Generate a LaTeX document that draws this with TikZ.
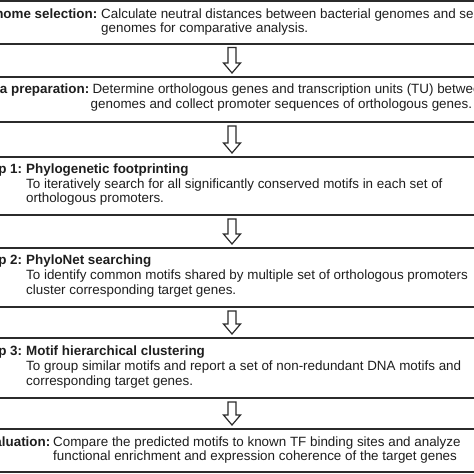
\documentclass[tikz,border=0pt]{standalone}
\usepackage{fontspec}
\setmainfont{Liberation Sans}
\usetikzlibrary{calc}
\definecolor{linec}{HTML}{2B2B2B}
\definecolor{txt}{HTML}{1E1E1E}
\tikzset{
  box/.style={draw=linec, line width=2pt, fill=white, minimum width=520pt, outer sep=0pt, inner sep=0pt, anchor=north},
  lbl/.style={font=\fontsize{13.4}{15}\selectfont\bfseries, anchor=base east, inner sep=0pt, text=txt},
  ttl/.style={font=\fontsize{13.4}{15}\selectfont\bfseries, anchor=base west, inner sep=0pt, text=txt},
  body/.style={font=\fontsize{13.4}{15}\selectfont, anchor=base west, inner sep=0pt, text=txt},
  flow/.style={draw=linec, line width=1.2pt, fill=white, line join=miter}
}
\newcommand\flowarrow[2]{%
  \draw[flow] ($(#1.south)+(-4,4)$) -- ($(#2.north)+(-4,-14)$) -- ($(#2.north)+(-8.5,-14)$)
    -- ($(#2.north)+(0,-4)$) -- ($(#2.north)+(8.5,-14)$) -- ($(#2.north)+(4,-14)$)
    -- ($(#1.south)+(4,4)$) -- cycle;}
\begin{document}
\begin{tikzpicture}[x=1pt,y=-1pt]
\useasboundingbox (0,0) rectangle (474,474);
\clip (0,0) rectangle (474,474);
\fill[white] (0,0) rectangle (474,474);
% boxes
\node[box, minimum height=42.5pt] (b1) at (232,1) {};
\node[box, minimum height=45pt] (b2) at (232,77) {};
\node[box, minimum height=58pt] (b3) at (232,157) {};
\node[box, minimum height=59pt] (b4) at (232,248) {};
\node[box, minimum height=60pt] (b5) at (232,338) {};
\node[box, minimum height=43pt] (b6) at (232,429) {};
% arrows
\flowarrow{b1}{b2}
\flowarrow{b2}{b3}
\flowarrow{b3}{b4}
\flowarrow{b4}{b5}
\flowarrow{b5}{b6}
% box 1
\node[lbl] (l1) at (97.5,18) {Genome selection:};
\node[body] (t1a) at (101,18) {Calculate neutral distances between bacterial genomes and select};
\node[body] (t1b) at (101,32.5) {genomes for comparative analysis.};
% box 2
\node[lbl] (l2) at (89.5,93.5) {Data preparation:};
\node[body] (t2a) at (92.3,93.5) {Determine orthologous genes and transcription units (TU) between};
\node[body] (t2b) at (90.5,108) {genomes and collect promoter sequences of orthologous genes.};
% box 3
\node[lbl] (l3) at (22.3,173.3) {Step 1:};
\node[ttl] (h3) at (26,173.3) {Phylogenetic footprinting};
\node[body] (t3a) at (26,188.3) {To iteratively search for all significantly conserved motifs in each set of};
\node[body] (t3b) at (26,202.8) {orthologous promoters.};
% box 4
\node[lbl] (l4) at (22.3,264.5) {Step 2:};
\node[ttl] (h4) at (26,264.5) {PhyloNet searching};
\node[body] (t4a) at (26,279.5) {To identify common motifs shared by multiple set of orthologous promoters};
\node[body] (t4b) at (26,294) {cluster corresponding target genes.};
% box 5
\node[lbl] (l5) at (22.3,355.5) {Step 3:};
\node[ttl] (h5) at (26,355.5) {Motif hierarchical clustering};
\node[body] (t5a) at (26,370.3) {To group similar motifs and report a set of non-redundant DNA motifs and};
\node[body] (t5b) at (26,385) {corresponding target genes.};
% box 6
\node[lbl] (l6) at (50.5,446) {Evaluation:};
\node[body] (t6a) at (53,446) {Compare the predicted motifs to known TF binding sites and analyze};
\node[body] (t6b) at (53,460.5) {functional enrichment and expression coherence of the target genes};
\end{tikzpicture}
\end{document}
